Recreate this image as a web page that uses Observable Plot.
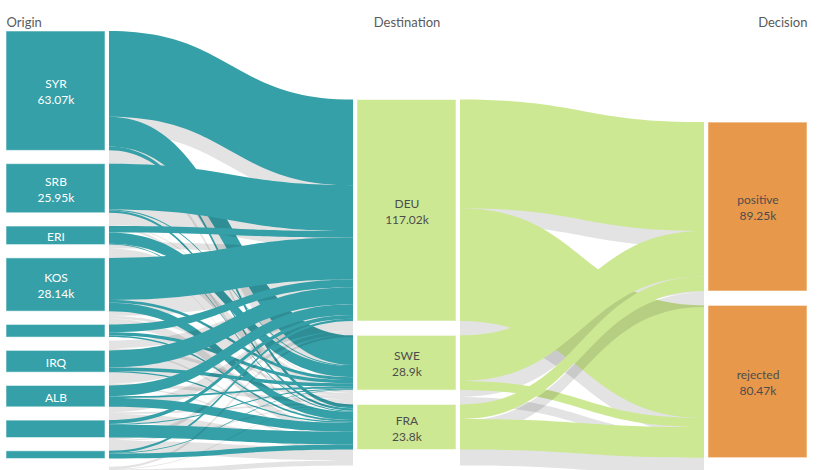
<!DOCTYPE html>
<html><head><meta charset="utf-8">
<script src="https://cdn.jsdelivr.net/npm/d3@7"></script>
<script src="https://cdn.jsdelivr.net/npm/@observablehq/plot@0.6"></script>
<style>body{margin:0;background:#fff;font-family:Lato,sans-serif}</style>
</head><body><div id="chart"></div>
<script>
// ---- data (thousands of asylum decisions) ----
const origins = ["SYR","SRB","ERI","KOS","AFG","IRQ","ALB","RUS","NGA"];
const destinations = ["DEU","SWE","FRA"];
const decisions = ["positive","rejected"];
const columnTitles = ["Origin","Destination","Decision"];
// origin -> destination (same order as origins)
const toDEU = [45.3,24.2,3.4,22.2,4.1,9.0,5.7,2.0,1.12];
const toSWE = [15.7,0.5,5.9,1.5,1.7,1.9,0.9,0.5,0.3];
const toFRA = [2.07,1.25,0.5,4.44,0.9,0.6,4.7,6.7,2.64];
// destination -> decision (same order as destinations)
const positive = [57.5,24.1,7.65];
const rejected = [59.52,4.8,16.15];

// ---- layout ----
const W = 817, H = 470, mt = 31, mb = 11.5;
const colColors = ["#35a0a8","#cde893","#e8984a"];
const labelColors = ["#ffffff","#4d4d4d","#4d4d4d"];
const nodeW = 99/351, padX = 4/351;
const colOffset = [0, 36.2, 48.13], colGap = [7.02, 7.6, 7.6];

const columns = [origins, destinations, decisions];
const nodes = [];
columns.forEach((names, c) => names.forEach((name, i) => nodes.push({name, col: c, i, value: 0})));
const node = (c, i) => nodes.find(n => n.col === c && n.i === i);
const flows = [];
[toDEU, toSWE, toFRA].forEach((arr, t) => arr.forEach((v, s) => flows.push({s: node(0, s), t: node(1, t), value: v})));
[positive, rejected].forEach((arr, t) => arr.forEach((v, s) => flows.push({s: node(1, s), t: node(2, t), value: v})));
flows.sort((a, b) => a.s.col - b.s.col || a.s.i - b.s.i || a.t.i - b.t.i);
for (const n of nodes) {
  const out = d3.sum(flows.filter(f => f.s === n), f => f.value);
  const inn = d3.sum(flows.filter(f => f.t === n), f => f.value);
  n.value = Math.max(out, inn);
}
for (let c = 0; c < 3; c++) {
  let y = colOffset[c];
  for (const n of nodes.filter(n => n.col === c)) { n.y0 = y; n.y1 = y + n.value; n.sy = y; n.ty = y; y = n.y1 + colGap[c]; }
}
for (const f of flows) { f.sy0 = f.s.sy; f.s.sy += f.value; f.sy1 = f.s.sy; }
[...flows].sort((a, b) => a.t.col - b.t.col || a.t.i - b.t.i || a.s.i - b.s.i)
  .forEach(f => { f.ty0 = f.t.ty; f.t.ty += f.value; f.ty1 = f.t.ty; });
for (const f of flows) { f.xa = f.s.col + nodeW + padX; f.xb = f.t.col - padX; }

const yMax = d3.sum(nodes.filter(n => n.col === 0), n => n.value) + colGap[0] * (origins.length - 1);
const pxPerK = (H - mt - mb) / yMax;
const fmt = v => d3.format(".2~f")(v) + "k";

const marks = [];
for (const f of flows) {
  const band = [{x: f.xa, a: f.sy0, b: f.sy1}, {x: f.xb, a: f.ty0, b: f.ty1}];
  marks.push(Plot.area(band, {x1: "x", y1: "a", y2: "b", curve: "bump-x", fill: "#000", fillOpacity: 0.11, dy: 16}));
  marks.push(Plot.area(band, {x1: "x", y1: "a", y2: "b", curve: "bump-x", fill: colColors[f.s.col]}));
}
marks.push(Plot.rect(nodes, {x1: d => d.col, x2: d => d.col + nodeW, y1: "y0", y2: "y1",
  fill: d => colColors[d.col], stroke: "#fff", strokeOpacity: 0.55, strokeWidth: 1}));
marks.push(Plot.text(nodes.filter(d => d.value * pxPerK >= 18), {
  x: d => d.col + nodeW / 2, y: d => (d.y0 + d.y1) / 2,
  text: d => d.value * pxPerK >= 40 ? d.name + "\n" + fmt(d.value) : d.name,
  fill: d => labelColors[d.col], fontSize: 12, lineHeight: 1.33, fontFamily: "Lato, sans-serif"}));
const anchors = ["start","middle","end"];
const tx = [0, 1 + nodeW / 2, 2 + nodeW];
columnTitles.forEach((t, c) => marks.push(Plot.text([t], {x: () => tx[c], frameAnchor: "top", dy: -14,
  text: d => d, textAnchor: anchors[c], fill: "#5a5a5a", fontSize: 13, fontFamily: "Lato, sans-serif"})));

const chart = Plot.plot({
  width: W, height: H, marginTop: mt, marginBottom: mb, marginLeft: 6, marginRight: 10,
  x: {domain: [0, 2 + nodeW], axis: null},
  y: {domain: [0, yMax], reverse: true, axis: null},
  style: {background: "#fff", overflow: "hidden"},
  marks
});
document.getElementById("chart").appendChild(chart);
</script></body></html>
